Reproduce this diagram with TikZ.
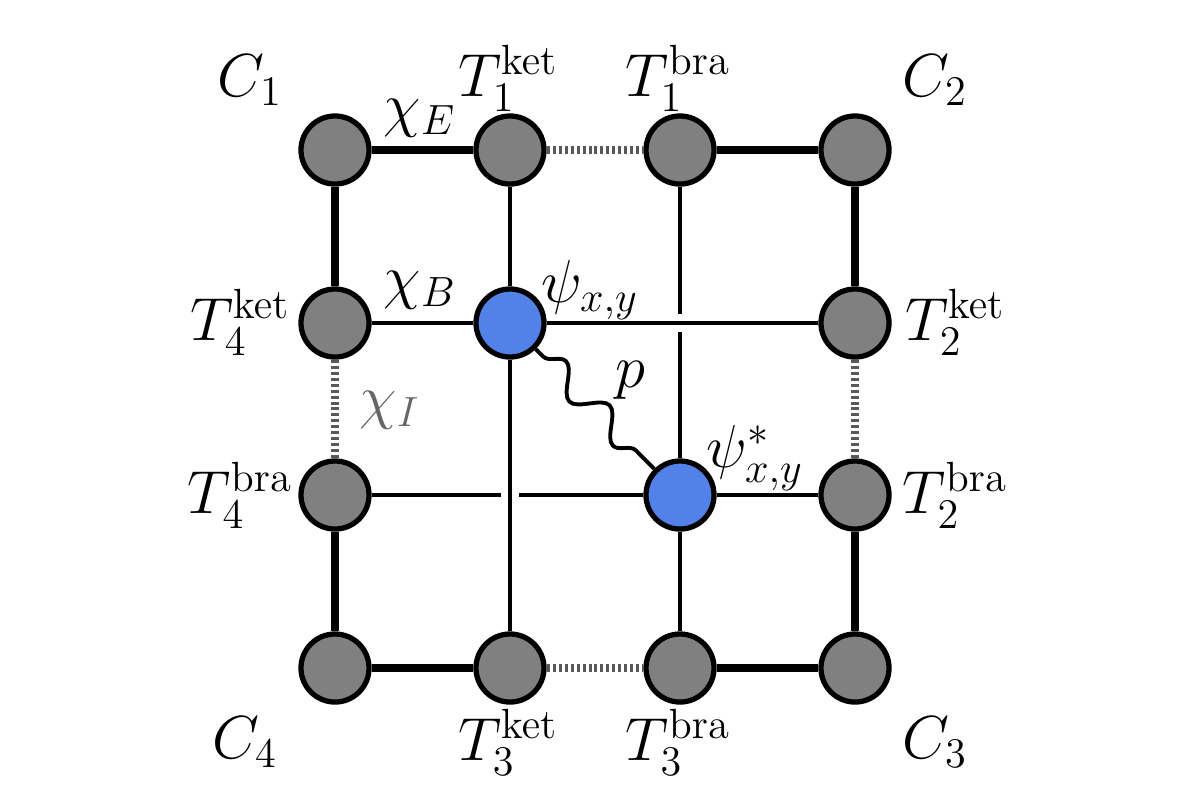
\documentclass[tikz,border=0pt]{standalone}
\usepackage{amsmath}
\usetikzlibrary{backgrounds,decorations.pathmorphing}
\definecolor{nodegray}{RGB}{128,128,128}
\definecolor{nodeblue}{RGB}{82,130,232}
\tikzset{
  g/.style={circle,draw,line width=1.5pt,fill=nodegray,minimum size=0.68cm,inner sep=0pt},
  b/.style={g,fill=nodeblue},
  thk/.style={line width=2.3pt},
  thn/.style={line width=1.1pt},
  dt/.style={line width=2.3pt,draw=black!65,dash pattern=on 0.85pt off 0.85pt},
  gap/.style={thn,preaction={draw=white,line width=5pt}},
  lb/.style={font=\LARGE,inner sep=0pt},
  wig/.style={thn,decorate,decoration={snake,segment length=0.62cm,amplitude=0.13cm,pre length=3pt,post length=3pt}},
}

\begin{document}
\begin{tikzpicture}[x=0.01cm,y=-0.01cm]
\useasboundingbox (0,0) rectangle (1200,811);
% tensors
\node[g] (c1) at (335,150){}; \node[g] (t1k) at (510,150){}; \node[g] (t1b) at (680,150){}; \node[g] (c2) at (855,150){};
\node[g] (t4k) at (335,323){}; \node[b] (psi) at (510,323){}; \node[g] (t2k) at (855,323){};
\node[g] (t4b) at (335,495){}; \node[b] (psis) at (680,495){}; \node[g] (t2b) at (855,495){};
\node[g] (c4) at (335,668){}; \node[g] (t3k) at (510,668){}; \node[g] (t3b) at (680,668){}; \node[g] (c3) at (855,668){};
% bonds
\begin{scope}[on background layer]
\draw[thk] (c1)--(t1k); \draw[dt] (t1k)--(t1b); \draw[thk] (t1b)--(c2);
\draw[thk] (c1)--(t4k); \draw[dt] (t4k)--(t4b); \draw[thk] (t4b)--(c4);
\draw[thk] (c2)--(t2k); \draw[dt] (t2k)--(t2b); \draw[thk] (t2b)--(c3);
\draw[thk] (c4)--(t3k); \draw[dt] (t3k)--(t3b); \draw[thk] (t3b)--(c3);
\draw[thn] (t1k)--(psi); \draw[thn] (t4k)--(psi);
\draw[thn] (t1b)--(psis); \draw[gap] (psi)--(t2k);
\draw[thn] (t4b)--(psis); \draw[gap] (psi)--(t3k);
\draw[thn] (psis)--(t2b); \draw[thn] (psis)--(t3b);
\draw[wig] (psi)--(psis);
\end{scope}
% labels
\node[lb] (lc1) at (250,80){$C_1$}; \node[lb] (lc2) at (935,80){$C_2$};
\node[lb] (lc4) at (245,742){$C_4$}; \node[lb] (lc3) at (935,742){$C_3$};
\node[lb] (lt1k) at (508,78){$T_1^{\mathrm{ket}}$}; \node[lb] (lt1b) at (678,78){$T_1^{\mathrm{bra}}$};
\node[lb] (lt3k) at (508,742){$T_3^{\mathrm{ket}}$}; \node[lb] (lt3b) at (678,742){$T_3^{\mathrm{bra}}$};
\node[lb] (lt4k) at (240,322){$T_4^{\mathrm{ket}}$}; \node[lb] (lt4b) at (240,495){$T_4^{\mathrm{bra}}$};
\node[lb] (lt2k) at (955,322){$T_2^{\mathrm{ket}}$}; \node[lb] (lt2b) at (955,495){$T_2^{\mathrm{bra}}$};
\node[lb] (lxe) at (420,118){$\chi_E$}; \node[lb] (lxb) at (420,290){$\chi_B$};
\node[lb,black!60] (lxi) at (390,410){$\chi_I$};
\node[lb] (lpsi) at (590,290){$\psi_{x,y}$}; \node[lb] (lpsis) at (755,458){$\psi^*_{x,y}$};
\node[lb] (lp) at (630,380){$p$};
\end{tikzpicture}
\end{document}
